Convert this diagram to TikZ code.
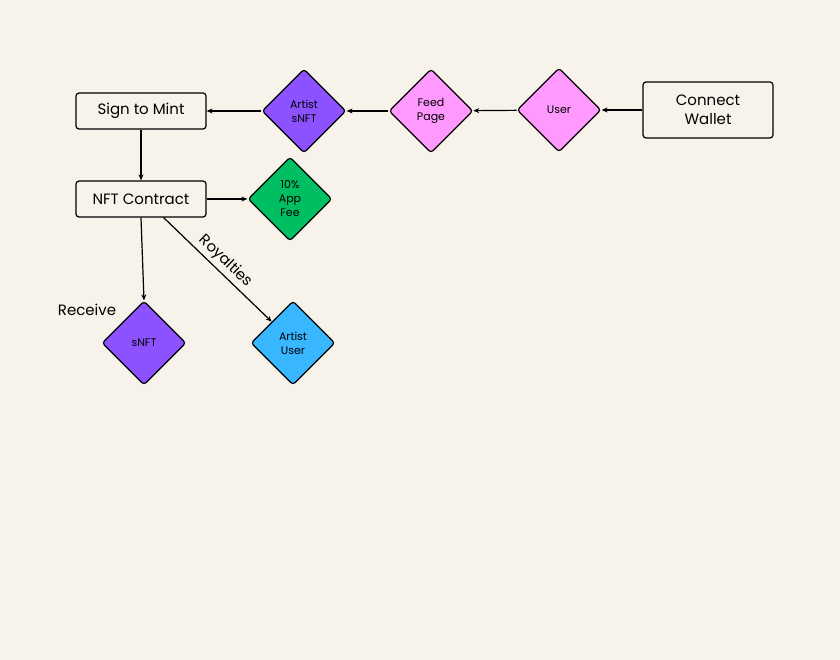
\documentclass[tikz,border=0pt]{standalone}
\usepackage{fontspec}
\setmainfont{Poppins}
\usetikzlibrary{shapes.geometric,arrows.meta}
\definecolor{bgcol}{HTML}{F7F3EB}
\definecolor{pinkd}{HTML}{FF99FF}
\definecolor{purpled}{HTML}{8C52FF}
\definecolor{greend}{HTML}{00BF63}
\definecolor{blued}{HTML}{38B6FF}
\begin{document}
\begin{tikzpicture}
      [x = 1pt, y = -1pt,
      box/.style={
         draw,
         fill = bgcol,
         rounded corners = 3pt,
         line width = 1.2pt,
         minimum width = 130pt,
         align = center,
         font = \fontsize{15}{19}\selectfont
      },
      dia/.style={
         draw,
         diamond,
         rounded corners = 3pt,
         line width = 1.2pt,
         minimum width = 84pt,
         minimum height = 84pt,
         inner sep = 0pt,
         align = center,
         font = \fontsize{11}{14}\selectfont
      },
      link/.style={-{Stealth[length=6pt,width=5pt]}, line width = 1.2pt}]

      \fill[bgcol] (0, 0) rectangle (840, 660);

      \node[box, minimum height = 56pt] (wallet) at (708, 110) {Connect\\Wallet};
      \node[dia, fill = pinkd] (user) at (559, 110) {User};
      \node[dia, fill = pinkd] (feed) at (431, 111) {Feed\\Page};
      \node[dia, fill = purpled] (artnft) at (304, 111) {Artist\\sNFT};
      \node[box, minimum height = 36pt] (sign) at (141, 111) {Sign to Mint};
      \node[box, minimum height = 36pt] (contract) at (141, 199) {NFT Contract};
      \node[dia, fill = greend] (fee) at (290, 199) {10\%\\App\\Fee};
      \node[dia, fill = purpled] (snft) at (144, 343) {sNFT};
      \node[dia, fill = blued] (artuser) at (293, 343) {Artist\\User};
      \node[font = \fontsize{15}{19}\selectfont] (recv) at (87, 310) {Receive};

      \draw[link] (wallet) -- (user);
      \draw[link] (user) -- (feed);
      \draw[link] (feed) -- (artnft);
      \draw[link] (artnft) -- (sign);
      \draw[link] (sign) -- (contract);
      \draw[link] (contract) -- (fee);
      \draw[link] (contract.south) -- (snft.north);
      \draw[link] (contract.south east) ++(-43, 0) coordinate (rs) -- (artuser.north west)
         node[pos = 0.5, sloped, above, font = \fontsize{15}{19}\selectfont] {Royalties};

   \end{tikzpicture}
\end{document}
